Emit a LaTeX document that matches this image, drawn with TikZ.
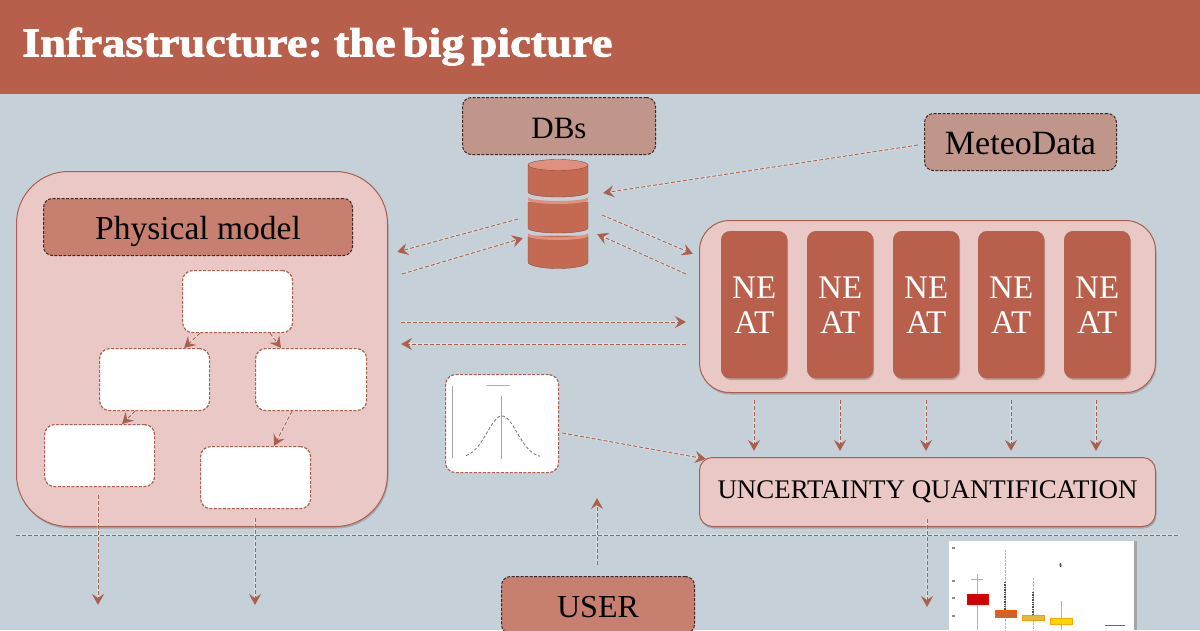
\documentclass[tikz,border=0pt]{standalone}
\usepackage{fontspec}
\setmainfont{Liberation Serif}
\newfontfamily\titlefont[FakeStretch=1.132,WordSpace=0.6,BoldFeatures={FakeBold=2}]{Liberation Serif}
\usetikzlibrary{arrows.meta,shadows}
\definecolor{hdr}{HTML}{B85F4B}
\definecolor{bgc}{HTML}{C5D0D8}
\definecolor{edge}{HTML}{A9604F}
\definecolor{panel}{HTML}{E9C8C5}
\definecolor{lab}{HTML}{C7806F}
\definecolor{labl}{HTML}{C1968A}
\definecolor{neat}{HTML}{B9604C}
\definecolor{cyl}{HTML}{C46A52}
\definecolor{cyll}{HTML}{E0907C}
\tikzset{
  softshadow/.style={drop shadow={shadow xshift=1pt,shadow yshift=-2pt,fill=black,opacity=.18}},
  panelbox/.style={draw=edge,line width=1pt,fill=panel,softshadow,anchor=north west,inner sep=0pt},
  labelbox/.style={draw=black!60!edge,dash pattern=on 3pt off 1.5pt,line width=1pt,rounded corners=9pt,anchor=north west,inner sep=0pt,text=black,text height=24pt,text depth=0pt},
  whitebox/.style={draw=edge,dash pattern=on 3pt off 1.5pt,line width=1.2pt,fill=white,rounded corners=10pt,minimum width=110pt,minimum height=62pt,anchor=north west,inner sep=0pt},
  neatbox/.style={draw=edge,fill=neat,rounded corners=9pt,minimum width=66pt,minimum height=147pt,anchor=north west,inner sep=0pt,text=white,align=center,font=\fontsize{33}{35}\selectfont,softshadow},
  flow/.style={draw=edge,dash pattern=on 4pt off 2pt,line width=.9pt,-{Stealth[length=11pt,width=12pt,inset=4pt]},
    preaction={draw=white,draw opacity=.3,line width=2.4pt,solid,-}},
}
\begin{document}
\begin{tikzpicture}[x=1pt,y=-1pt]
\useasboundingbox (0,0) rectangle (1200,630);
\fill[bgc] (0,0) rectangle (1200,630);
\fill[hdr] (0,0) rectangle (1200,94);
\node[anchor=base west,inner sep=0pt,text=white,font=\fontsize{41}{41}\titlefont\bfseries] (title) at (22,56.5) {Infrastructure: the big picture};

% database cylinder
\fill[cyl,draw=edge!80!black,line width=.4pt] (528,236) -- (528,262) arc[start angle=180,end angle=0,x radius=30,y radius=6.5] -- (588,236) -- cycle;
\fill[cyll] (528,233) arc[start angle=180,end angle=0,x radius=30,y radius=4] -- (588,236) arc[start angle=0,end angle=180,x radius=30,y radius=4] -- cycle;
\fill[cyl,draw=edge!80!black,line width=.4pt] (528,202) -- (528,228) arc[start angle=180,end angle=0,x radius=30,y radius=5] -- (588,202) -- cycle;
\fill[cyll] (528,197) arc[start angle=180,end angle=0,x radius=30,y radius=4] -- (588,200) arc[start angle=0,end angle=180,x radius=30,y radius=4] -- cycle;
\fill[cyl,draw=edge!80!black,line width=.4pt] (528,165) -- (528,192) arc[start angle=180,end angle=0,x radius=30,y radius=5] -- (588,165) -- cycle;
\fill[cyll,draw=edge!80!black,line width=.4pt] (558,165) ellipse[x radius=30,y radius=5.5];

% panels
\node[panelbox,rounded corners=52pt,minimum width=371pt,minimum height=355pt] (phys) at (16,171) {};
\node[panelbox,rounded corners=30pt,minimum width=456pt,minimum height=172pt] (neatp) at (699,220) {};
\node[panelbox,rounded corners=13pt,minimum width=456pt,minimum height=69pt,text=black,font=\fontsize{26.9}{26.9}\selectfont] (uq) at (699,457) {UNCERTAINTY QUANTIFICATION};

% labels
\node[labelbox,fill=labl,minimum width=193pt,minimum height=57pt,font=\fontsize{31}{31}\selectfont] (dbs) at (462,97) {DBs};
\node[labelbox,fill=labl,minimum width=192pt,minimum height=57pt,font=\fontsize{34}{34}\selectfont] (meteo) at (924,113) {MeteoData};
\node[labelbox,fill=lab,minimum width=309pt,minimum height=57pt,font=\fontsize{33.5}{33.5}\selectfont] (pm) at (43,198) {Physical model};
\node[labelbox,fill=lab,minimum width=193pt,minimum height=57pt,font=\fontsize{32}{32}\selectfont] (user) at (501,576) {USER};

% white boxes
\node[whitebox] (wa) at (182,270) {};
\node[whitebox] (wb) at (99,348) {};
\node[whitebox,minimum width=111pt] (wc) at (255,348) {};
\node[whitebox] (wd) at (44,424) {};
\node[whitebox] (we) at (200,446) {};

% NEAT boxes
\node[neatbox] (n1) at (721,231) {NE\\AT};
\node[neatbox] (n2) at (807,231) {NE\\AT};
\node[neatbox] (n3) at (893,231) {NE\\AT};
\node[neatbox] (n4) at (978,231) {NE\\AT};
\node[neatbox] (n5) at (1064,231) {NE\\AT};

% gaussian chart
\node[whitebox,minimum width=113pt,minimum height=98pt] (gauss) at (445,374) {};
\draw[black!35,line width=1pt] (452,386) -- (452,458);
\draw[black!35,line width=1pt] (501,396) -- (501,459);
\draw[black!30,line width=.7pt] (486,385) -- (510,385);
\draw[black!55,densely dashed,line width=.8pt,smooth] plot[domain=466:540,samples=45] (\x,{458-42*exp(-((\x-502)/15)^2/2)});

% box plot picture
\fill[white] (949,541) rectangle (1134,630);
\fill[black!35] (1134,541) rectangle (1137,630);
\foreach \yy in {547,580,597,615} \fill[black!45] (952,\yy) rectangle (955,\yy+1.5);
\draw[black!30] (977,574) -- (977,630) (971,579.5) -- (983,579.5);
\draw[black!30,densely dotted] (1005,550) -- (1005,630) (1033,578) -- (1033,630);
\draw[black!30] (1061,601) -- (1061,630);
\draw[black!70,line width=1.4pt,densely dotted] (1005,582) -- (1005,612) (1033,592) -- (1033,620);
\fill[black!70] (1060.5,565) ellipse[x radius=1,y radius=2];
\fill[red!80!black,draw=red!90!black] (967,594) rectangle (988,604);
\fill[brown!75!red,draw=orange!70!red] (995,610) rectangle (1016,617.5);
\fill[yellow!45!brown,draw=orange!80!yellow] (1022,615) rectangle (1044,620);
\fill[yellow!75!orange,draw=orange!70!yellow] (1050,618) rectangle (1072,624.5);
\draw[black!60,line width=.9pt] (1105,625) -- (1125,625);

% separator
\coordinate (sepl) at (16,535);
\coordinate (sepr) at (1180,535);
\draw[edge,dash pattern=on 4pt off 2pt,line width=.9pt,preaction={draw=white,draw opacity=.3,line width=2.4pt,solid}] (sepl) -- (sepr);

% free ends of connectors
\coordinate (a1) at (603,193);
\coordinate (a2) at (518,219); \coordinate (a3) at (397,252);
\coordinate (a4) at (402,274); \coordinate (a5) at (523,238);
\coordinate (a6) at (602,215); \coordinate (a7) at (693,254);
\coordinate (a8) at (686,274); \coordinate (a9) at (597,234);
\coordinate (b1) at (401,322); \coordinate (b2) at (686,322);
\coordinate (b3) at (686,344); \coordinate (b4) at (401,344);
\coordinate (o1) at (98,605); \coordinate (o2) at (255,605);
\coordinate (o3) at (597,565); \coordinate (o4) at (597,498);
\coordinate (o5) at (927,607);

\draw[flow] (meteo.west |- 0,145) ++(-6,0) -- (a1);
\draw[flow] (a2) -- (a3);
\draw[flow] (a4) -- (a5);
\draw[flow] (a6) -- (a7);
\draw[flow] (a8) -- (a9);
\draw[flow] (b1) -- (b2);
\draw[flow] (b3) -- (b4);

\draw[flow] ([xshift=18pt]wa.south west) -- ([xshift=85pt]wb.north west);
\draw[flow] ([xshift=88pt]wa.south west) -- ([xshift=26pt]wc.north west);
\draw[flow] ([xshift=36pt]wb.south west) -- ([xshift=78pt]wd.north west);
\draw[flow] ([xshift=37pt]wc.south west) -- ([xshift=74pt]we.north west);

\foreach \n/\x in {n1/754,n2/840,n3/926,n4/1011,n5/1096}
  \draw[flow] (\x,400) -- (\x,451);

\draw[flow] (gauss.east |- 0,433) ++(3,0) -- (706,459);
\draw[flow] (98,495) -- (o1);
\draw[flow] (255,518) -- (o2);
\draw[flow] (o3) -- (o4);
\draw[flow] (uq.south -| o5) ++(0,-8) -- (o5);
\end{tikzpicture}
\end{document}
